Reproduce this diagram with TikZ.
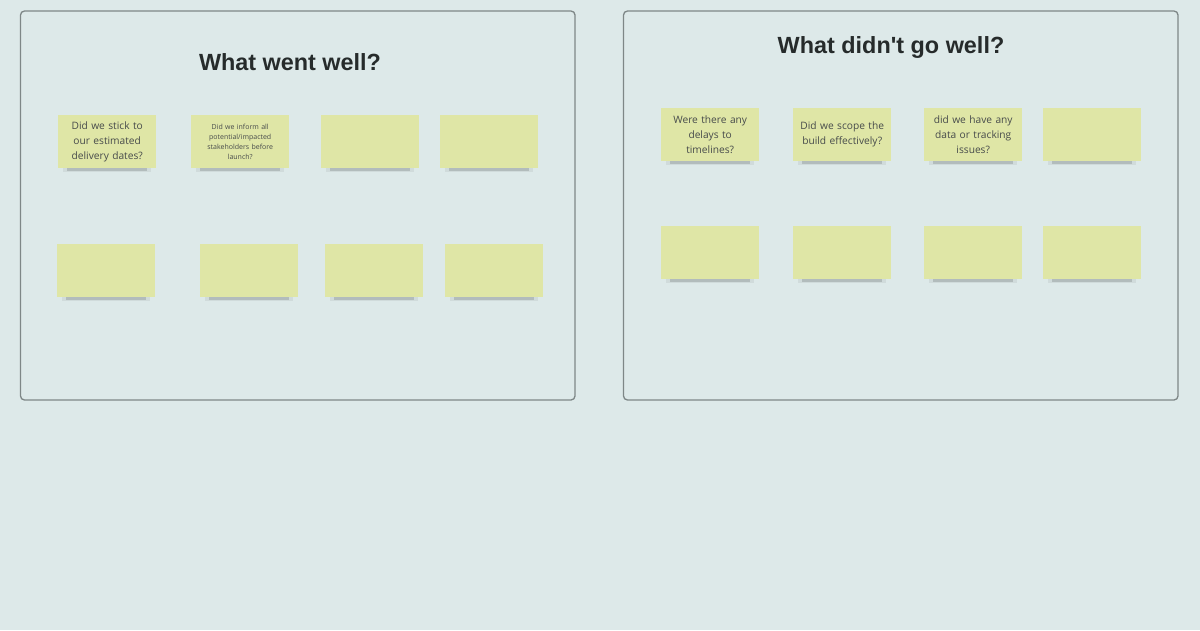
\documentclass[tikz,border=0pt]{standalone}
\usepackage{fontspec}
\setmainfont{Open Sans}
\newfontfamily\titlefont{Liberation Sans}
\definecolor{bg}{HTML}{DDE9E9}
\definecolor{panelborder}{HTML}{7E8787}
\definecolor{sticky}{HTML}{DFE6A6}
\definecolor{ink}{HTML}{262B2B}
\tikzset{
  panel/.style={draw=panelborder, line width=1.3pt, rounded corners=4pt, fill=bg},
  title/.style={font=\titlefont\bfseries\fontsize{23.4}{28}\selectfont, text=ink},
  note/.style={fill=sticky, minimum width=98pt, minimum height=53pt, inner sep=2pt,
    text width=92pt, align=center, font=\fontsize{10.2}{15}\selectfont, text=ink!85},
  tiny/.style={font=\fontsize{7}{9.8}\selectfont},
}
\begin{document}
\begin{tikzpicture}[x=1pt,y=-1pt]
\fill[bg] (0,0) rectangle (1200,630);
\useasboundingbox (0,0) rectangle (1200,630);
\draw[panel] (20.5,11) rectangle (575,400);
\draw[panel] (623.5,11) rectangle (1178,400);
\node[title] (t1) at (290,62) {What went well?};
\node[title] (t2) at (891,47) {What didn't go well?};
% shadows
\foreach \x/\y in {58/115,191/115,321/115,440/115,57/244,200/244,325/244,445/244,
                   661/108,793/108,924/108,1043/108,661/226,793/226,924/226,1043/226}{
  \fill[black, opacity=0.06] (\x+5,\y+51) rectangle (\x+93,\y+57);
  \fill[black, opacity=0.14] (\x+9,\y+52.5) rectangle (\x+89,\y+55.5);
}
\node[note, anchor=north west] (a1) at (58,115) {Did we stick to\\ our estimated\\ delivery dates?};
\node[note, tiny, anchor=north west] (a2) at (191,115) {Did we inform all\\ potential/impacted\\ stakeholders before\\ launch?};
\node[note, anchor=north west] (a3) at (321,115) {};
\node[note, anchor=north west] (a4) at (440,115) {};
\node[note, anchor=north west] (a5) at (57,244) {};
\node[note, anchor=north west] (a6) at (200,244) {};
\node[note, anchor=north west] (a7) at (325,244) {};
\node[note, anchor=north west] (a8) at (445,244) {};
\node[note, anchor=north west] (b1) at (661,108) {Were there any\\ delays to\\ timelines?};
\node[note, anchor=north west] (b2) at (793,108) {Did we scope the\\ build effectively?};
\node[note, anchor=north west] (b3) at (924,108) {did we have any\\ data or tracking\\ issues?};
\node[note, anchor=north west] (b4) at (1043,108) {};
\node[note, anchor=north west] (b5) at (661,226) {};
\node[note, anchor=north west] (b6) at (793,226) {};
\node[note, anchor=north west] (b7) at (924,226) {};
\node[note, anchor=north west] (b8) at (1043,226) {};
\end{tikzpicture}
\end{document}
